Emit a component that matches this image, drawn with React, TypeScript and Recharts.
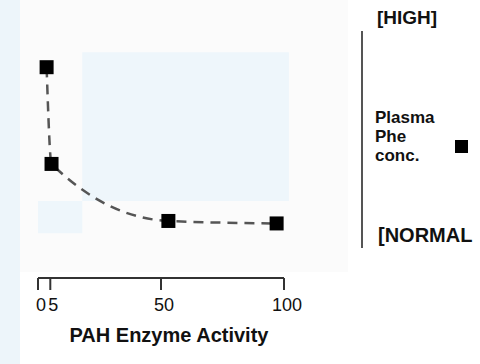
import React from "react";
import { ScatterChart, Scatter, XAxis, YAxis, ReferenceArea } from "recharts";

// PAH enzyme activity (% of normal) vs relative plasma Phe level
const activity = [3.5, 5.5, 53, 97];
const pheLevel = [85, 46, 23, 22];
const xTicks = [0, 5, 50, 100];

// shaded zones behind the curve
const zones = [
  { x1: 18, x2: 102, y1: 31, y2: 91 },
  { x1: 0, x2: 18, y1: 18, y2: 31 },
];

const legendLines = ["Plasma", "Phe", "conc."];
const highLabel = "[HIGH]";
const normalLabel = "[NORMAL";

const font = "'Liberation Sans', Arial, sans-serif";

const SquareDot = (props: any) => {
  const { cx, cy } = props;
  if (cx == null || cy == null) return null;
  return <rect x={cx - 7} y={cy - 7} width={14} height={14} fill="#000" />;
};

export default function App() {
  const data = activity.map((x, i) => ({ x, y: pheLevel[i] }));

  return (
    <div style={{ position: "absolute", left: 0, top: 0, width: 480, height: 364, background: "#fff", fontFamily: font }}>
      <div style={{ position: "absolute", left: 0, top: 0, width: 20, height: 364, background: "#edf5fa" }} />
      <div style={{ position: "absolute", left: 20, top: 0, width: 328, height: 272, background: "#fbfbfb" }} />
      <div style={{ position: "absolute", left: 0, top: 0 }}>
        <ScatterChart width={480} height={364} margin={{ top: 30, right: 196, bottom: 0, left: 38 }}>
          <XAxis
            type="number"
            dataKey="x"
            domain={[0, 100]}
            ticks={xTicks}
            interval={0}
            height={86}
            tickSize={12}
            tickMargin={8}
            axisLine={{ stroke: "#333", strokeWidth: 2 }}
            tickLine={{ stroke: "#333", strokeWidth: 2 }}
            tick={{ fill: "#111", fontSize: 18, fontFamily: font, dx: 3 }}
            label={{
              value: "PAH Enzyme Activity",
              position: "insideBottom",
              offset: 22,
              dx: 8,
              fill: "#111",
              fontSize: 20,
              fontWeight: "bold",
              fontFamily: font,
            }}
          />
          <YAxis type="number" dataKey="y" domain={[0, 100]} hide />
          {zones.map((z, i) => (
            <ReferenceArea
              key={i}
              x1={z.x1}
              x2={z.x2}
              y1={z.y1}
              y2={z.y2}
              ifOverflow="visible"
              fill="#eef6fb"
              fillOpacity={1}
              stroke="none"
            />
          ))}
          <Scatter
            data={data}
            fill="#000"
            shape={SquareDot}
            line={{ stroke: "#555", strokeWidth: 2.5, strokeDasharray: "10 7" }}
            lineJointType="monotoneX"
            isAnimationActive={false}
          />
        </ScatterChart>
      </div>
      <svg width={480} height={364} style={{ position: "absolute", left: 0, top: 0, pointerEvents: "none" }}>
        <line x1={362} y1={31} x2={362} y2={248} stroke="#555" strokeWidth={2} />
        <g fontFamily={font} fontWeight="bold" fill="#111">
          <text x={377} y={24} fontSize={19}>{highLabel}</text>
          {legendLines.map((t, i) => (
            <text key={t} x={375} y={123 + i * 19} fontSize={17}>{t}</text>
          ))}
          <text x={378} y={242} fontSize={20}>{normalLabel}</text>
        </g>
        <rect x={455} y={140} width={13} height={13} fill="#000" />
      </svg>
    </div>
  );
}
